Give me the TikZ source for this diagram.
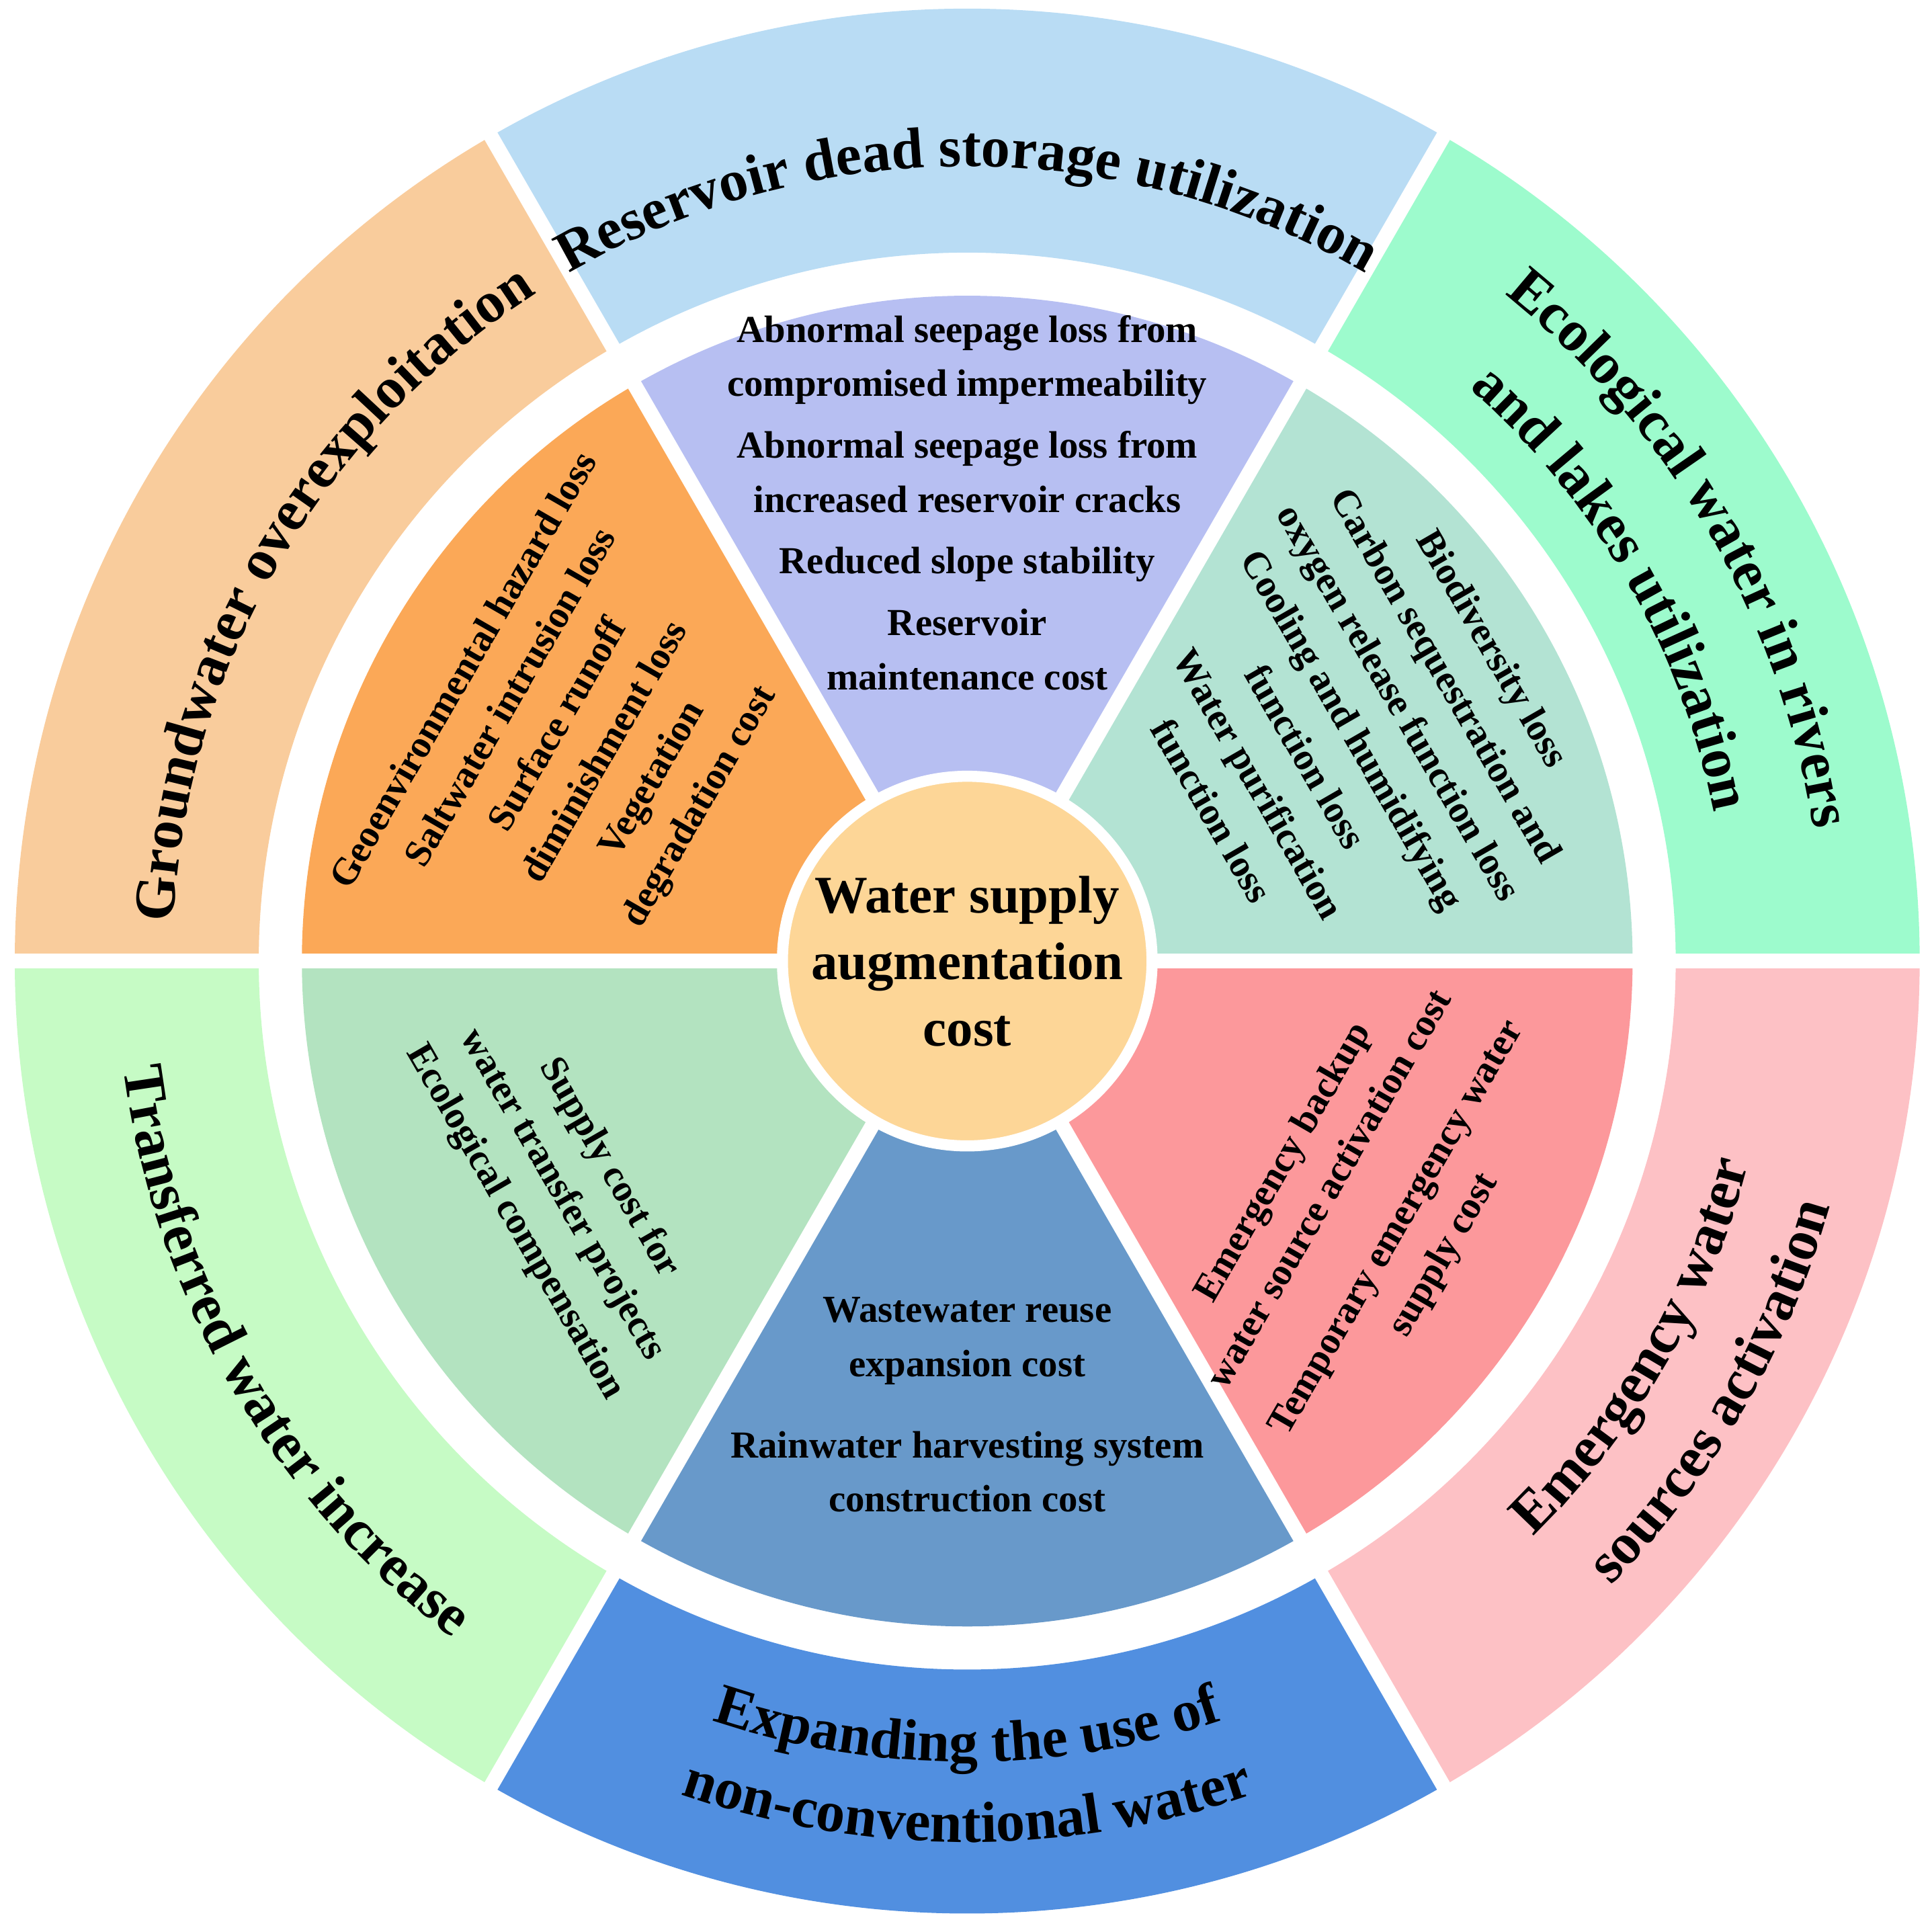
\documentclass[tikz,border=0pt]{standalone}
\usepackage{fontspec}
\setmainfont{Liberation Serif}
\usetikzlibrary{decorations.text}
\definecolor{oA}{HTML}{B9DCF4}\definecolor{oB}{HTML}{9DFBCD}\definecolor{oC}{HTML}{FDC1C5}
\definecolor{oD}{HTML}{518FE0}\definecolor{oE}{HTML}{C6FBC5}\definecolor{oF}{HTML}{F9CC9C}
\definecolor{iA}{HTML}{B7BFF2}\definecolor{iB}{HTML}{B3E3D3}\definecolor{iC}{HTML}{FC989B}
\definecolor{iD}{HTML}{6899CA}\definecolor{iE}{HTML}{B3E3C0}\definecolor{iF}{HTML}{FBA857}
\definecolor{cen}{HTML}{FDD697}
\newcommand{\ofnt}{\fontsize{47}{47}\selectfont\bfseries}
\newcommand{\ifnt}{\fontsize{31}{44}\selectfont\bfseries}
\tikzset{
 inner/.style={align=center,font=\ifnt,inner sep=0pt},
 otxt/.style={decorate,decoration={text along path,text align=center,text={|\ofnt|#1}}}
}
\begin{document}
\begin{tikzpicture}[x=1pt,y=1pt]
\useasboundingbox (-785,-786) rectangle (783,780);
% outer ring
\foreach \a/\c in {60/oA,0/oB,-60/oC,-120/oD,-180/oE,-240/oF}{
 \fill[\c] (\a:575) -- (\a:773) arc[start angle=\a,end angle=\a+60,radius=773] -- (\a+60:575) arc[start angle=\a+60,end angle=\a,radius=575] -- cycle;}
% inner wedges
\foreach \a/\c in {60/iA,0/iB,-60/iC,-120/iD,-180/iE,-240/iF}{
 \fill[\c] (0,0) -- (\a:540) arc[start angle=\a,end angle=\a+60,radius=540] -- cycle;}
\foreach \a in {0,60,...,300}{\draw[white,line width=12pt] (0,0) -- (\a:790);}
\node[circle,fill=cen,draw=white,line width=9pt,minimum size=300pt,align=center,
 font=\fontsize{43}{54}\selectfont\bfseries,inner sep=0pt] (c) at (0,0) {Water supply\\augmentation\\cost};
% outer labels
\path[otxt={Reservoir dead storage utilization}] (122:645) arc[start angle=122,end angle=58,radius=645];
\path[otxt={Groundwater overexploitation}] (182:645) arc[start angle=182,end angle=118,radius=645];
\path[otxt={Ecological water in rivers}] (62:695) arc[start angle=62,end angle=-2,radius=695];
\path[otxt={and lakes utilization}] (62:618) arc[start angle=62,end angle=-2,radius=618];
\path[otxt={Emergency water}] (-62:655) arc[start angle=-62,end angle=2,radius=655];
\path[otxt={sources activation}] (-62:728) arc[start angle=-62,end angle=2,radius=728];
\path[otxt={Expanding the use of}] (-122:650) arc[start angle=-122,end angle=-58,radius=650];
\path[otxt={non-conventional water}] (-122:715) arc[start angle=-122,end angle=-58,radius=715];
\path[otxt={Transferred water increase}] (178:690) arc[start angle=178,end angle=242,radius=690];
% inner labels
\node[inner] (t) at (90:372) {Abnormal seepage loss from\\compromised impermeability\\[6pt]Abnormal seepage loss from\\increased reservoir cracks\\[6pt]Reduced slope stability\\[6pt]Reservoir\\maintenance cost};
\node[inner,rotate=-60] (r) at (31:365) {Biodiversity loss\\Carbon sequestration and\\oxygen release function loss\\Cooling and humidifying\\function loss\\Water purification\\function loss};
\node[inner,rotate=60] (l) at (150:360) {Geoenvironmental hazard loss\\Saltwater intrusion loss\\Surface runoff\\diminishment loss\\Vegetation\\degradation cost};
\node[inner,rotate=60] (br) at (-32:380) {Emergency backup\\water source activation cost\\[18pt]Temporary emergency water\\supply cost};
\node[inner,rotate=-60] (bl) at (-150:380) {Supply cost for\\water transfer projects\\Ecological compensation};
\node[inner] (b) at (-90:360) {Wastewater reuse\\expansion cost\\[22pt]Rainwater harvesting system\\construction cost};
\end{tikzpicture}
\end{document}
